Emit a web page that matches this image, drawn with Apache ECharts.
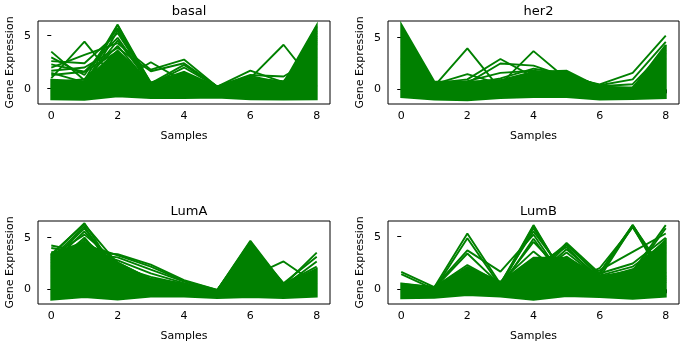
<!DOCTYPE html>
<html>
<head>
<meta charset="utf-8">
<script src="https://cdn.jsdelivr.net/npm/echarts@6/dist/echarts.min.js"></script>
<style>
html, body { margin: 0; padding: 0; background: #fff; }
#chart { width: 685px; height: 346px; }
</style>
</head>
<body>
<div id="chart"></div>
<script>
var samples = [0, 1, 2, 3, 4, 5, 6, 7, 8];
var xTicks = [0, 2, 4, 6, 8];
var yTicks = [0, 5];
var panelNames = ['basal', 'her2', 'LumA', 'LumB'];

// dense mass of overlapping profiles: lower and upper edge at each sample
var basalLow = [-1.0, -1.05, -0.72, -0.88, -0.88, -0.82, -1.0, -1.03, -1.0];
var basalHigh = [0.85, 0.7, 3.6, 0.55, 1.6, 0.2, 1.05, 0.55, 6.0];
var her2Low = [-0.75, -1.0, -1.05, -0.85, -0.75, -0.75, -1.0, -0.95, -0.85];
var her2High = [6.3, 0.75, 0.75, 0.9, 1.7, 1.8, 0.2, 0.1, 4.1];
var lumALow = [-1.0, -0.75, -1.0, -0.7, -0.7, -0.85, -0.75, -0.85, -0.7];
var lumAHigh = [3.4, 4.6, 2.6, 1.0, 0.55, -0.1, 4.2, 0.4, 2.0];
var lumBLow = [-0.85, -0.8, -0.55, -0.7, -1.0, -0.65, -0.75, -0.9, -0.7];
var lumBHigh = [0.55, 0.2, 2.1, 0.7, 3.0, 3.0, 1.2, 1.8, 4.7];

// profiles that stand out above the mass
var basalLines = [
  [3.5, 0.8, 6.05, 0.5, 1.2, 0.2, 0.6, 0.3, 5.9],
  [2.95, 1.3, 5.7, 0.6, 1.4, 0.1, 0.4, 0.2, 5.5],
  [2.6, 2.4, 5.25, 0.5, 1.0, 0.2, 0.8, 0.5, 5.0],
  [2.3, 1.6, 4.8, 0.4, 2.0, 0.2, 1.0, 0.7, 4.6],
  [1.0, 4.45, 0.6, 2.5, 0.7, 0.2, 1.7, 0.6, 4.2],
  [2.0, 3.2, 4.3, 1.8, 2.75, 0.2, 1.2, 0.5, 3.8],
  [1.7, 2.0, 3.85, 1.65, 2.4, 0.2, 1.0, 4.15, 0.2],
  [1.3, 1.6, 3.5, 0.5, 2.25, 0.2, 1.3, 1.15, 3.0],
  [0.5, 0.3, 6.0, 0.2, 0.8, 0.1, 0.5, 0.2, 5.8],
  [0.8, 0.0, 5.5, 0.3, 0.9, 0.2, 0.6, 0.3, 5.3],
  [1.5, 0.6, 4.55, 0.4, 1.1, 0.1, 0.7, 0.4, 4.8],
  [0.6, 0.9, 4.05, 0.3, 1.3, 0.2, 0.9, 0.3, 4.4]
];
var her2Lines = [
  [3.0, 0.3, 3.97, 0.0, 1.0, 1.0, 0.0, 0.0, 3.0],
  [2.0, 0.5, 1.48, 0.5, 3.7, 1.0, 0.1, 0.2, 3.5],
  [1.5, 0.6, 0.97, 2.94, 1.2, 1.5, 0.3, 0.1, 4.3],
  [1.0, 0.5, 0.6, 2.5, 2.3, 1.2, 0.48, 1.6, 5.2],
  [0.5, 0.4, 0.8, 1.6, 1.8, 1.4, 0.4, 0.97, 4.6],
  [2.5, 0.7, 0.5, 1.06, 2.0, 1.5, 0.3, 0.5, 3.8]
];
var lumALines = [
  [3.3, 6.4, 1.5, 0.5, 0.3, -0.1, 4.7, 0.5, 1.5],
  [3.0, 6.1, 1.0, 0.8, 0.4, -0.2, 4.5, 0.3, 1.8],
  [2.5, 5.6, 2.0, 0.6, 0.2, -0.1, 4.35, 0.6, 1.2],
  [4.25, 3.6, 3.4, 2.4, 0.9, -0.05, 0.5, 0.4, 3.55],
  [4.0, 3.5, 3.1, 1.9, 0.75, -0.1, 1.2, 2.7, 0.5],
  [3.6, 3.9, 2.8, 1.55, 0.6, -0.1, 2.0, 0.6, 3.15],
  [2.0, 4.8, 2.2, 1.2, 0.5, -0.1, 3.8, 0.3, 2.7],
  [3.4, 6.3, 2.5, 0.9, 0.3, -0.1, 4.6, 0.4, 1.4],
  [2.8, 5.9, 1.8, 0.7, 0.2, -0.1, 4.4, 0.2, 1.0],
  [3.2, 5.3, 2.6, 1.0, 0.5, -0.1, 4.1, 0.5, 1.9],
  [2.2, 5.0, 1.2, 0.4, 0.1, -0.1, 3.9, 0.1, 0.8],
  [3.5, 4.3, 3.3, 2.2, 0.8, -0.05, 2.5, 0.5, 2.2]
];
var lumBLines = [
  [1.65, 0.2, 5.3, 0.5, 6.1, 0.8, 1.5, 6.1, 0.8],
  [1.45, 0.0, 4.85, 0.3, 5.8, 1.0, 1.2, 1.7, 6.1],
  [0.5, 0.2, 3.7, 1.68, 5.2, 0.6, 2.0, 5.9, 1.0],
  [0.3, 0.1, 3.4, 0.4, 4.5, 1.2, 1.8, 3.55, 5.3],
  [0.4, 0.2, 2.3, 0.6, 1.2, 4.4, 1.5, 2.45, 4.9],
  [0.2, 0.1, 1.5, 0.5, 1.0, 4.2, 1.3, 2.15, 4.5],
  [0.3, 0.2, 1.2, 0.4, 1.2, 3.5, 1.0, 1.9, 3.8],
  [0.1, 0.0, 1.0, 0.3, 0.8, 2.7, 1.1, 6.05, 1.5],
  [0.2, 0.1, 0.8, 0.4, 6.0, 0.9, 1.0, 1.5, 4.0],
  [0.4, 0.2, 1.1, 0.6, 5.5, 1.3, 1.2, 1.6, 4.2],
  [0.1, 0.0, 0.9, 0.2, 4.8, 0.5, 0.9, 1.4, 3.5],
  [0.3, 0.1, 1.3, 0.7, 3.6, 1.1, 1.1, 1.7, 3.9],
  [0.2, 0.1, 0.9, 0.5, 1.8, 4.3, 1.2, 1.6, 4.1],
  [0.3, 0.2, 1.0, 0.4, 2.2, 4.0, 0.9, 1.5, 3.6],
  [0.2, 0.1, 0.8, 0.3, 1.5, 3.1, 1.0, 1.8, 4.4],
  [0.4, 0.2, 1.2, 0.6, 1.3, 1.0, 1.6, 6.1, 1.2],
  [0.3, 0.1, 0.9, 0.5, 1.1, 0.9, 1.4, 5.95, 0.6],
  [0.2, 0.1, 0.7, 0.3, 1.0, 3.8, 1.1, 1.5, 5.8]
];

var lows = [basalLow, her2Low, lumALow, lumBLow];
var highs = [basalHigh, her2High, lumAHigh, lumBHigh];
var lineSets = [basalLines, her2Lines, lumALines, lumBLines];
var yMin = [-1.44, -1.42, -1.42, -1.40];
var yMax = [6.39, 6.62, 6.62, 6.49];

var GREEN = '#008000';
var FONT = 'DejaVu Sans';
var LINE_W = 1.9;
var grids = [
  { left: 38, top: 21, width: 292, height: 83 },
  { left: 388, top: 21, width: 291, height: 83 },
  { left: 38, top: 221, width: 292, height: 83 },
  { left: 388, top: 221, width: 291, height: 83 }
];

function toPoints(vals) {
  return samples.map(function (s, i) { return [s, vals[i]]; });
}

// band between low and high edges, drawn as one polygon through the axes
function bandRenderer(low, high) {
  return function (params, api) {
    var pts = [];
    for (var i = 0; i < samples.length; i++) pts.push(api.coord([samples[i], high[i]]));
    for (var j = samples.length - 1; j >= 0; j--) pts.push(api.coord([samples[j], low[j]]));
    return {
      type: 'polygon',
      shape: { points: pts },
      style: { fill: GREEN, stroke: GREEN, lineWidth: LINE_W, lineJoin: 'miter' }
    };
  };
}

var option = {
  animation: false,
  backgroundColor: '#fff',
  title: [],
  grid: [],
  xAxis: [],
  yAxis: [],
  series: []
};

grids.forEach(function (g, k) {
  option.grid.push({
    left: g.left, top: g.top, width: g.width, height: g.height,
    show: true, borderColor: '#000', borderWidth: 1, backgroundColor: '#fff'
  });
  option.title.push({
    text: panelNames[k],
    left: g.left + g.width / 2,
    top: g.top - 21,
    textAlign: 'center',
    textStyle: { fontFamily: FONT, fontSize: 13, fontWeight: 'normal', color: '#000' }
  });
  option.xAxis.push({
    gridIndex: k, type: 'value', min: -0.4, max: 8.4,
    name: 'Samples', nameLocation: 'middle', nameGap: 27,
    nameTextStyle: { fontFamily: FONT, fontSize: 11, color: '#000' },
    axisLine: { show: false },
    splitLine: { show: false },
    axisTick: { show: true, customValues: xTicks, length: 4, lineStyle: { color: '#000' } },
    axisLabel: { customValues: xTicks, margin: 7, fontFamily: FONT, fontSize: 11, color: '#000' }
  });
  option.yAxis.push({
    gridIndex: k, type: 'value', min: yMin[k], max: yMax[k],
    name: 'Gene Expression', nameLocation: 'middle', nameGap: 22, nameRotate: 90,
    nameTextStyle: { fontFamily: FONT, fontSize: 11, color: '#000' },
    axisLine: { show: false },
    splitLine: { show: false },
    axisTick: { show: true, customValues: yTicks, length: 4, lineStyle: { color: '#000' } },
    axisLabel: { customValues: yTicks, margin: 7, fontFamily: FONT, fontSize: 11, color: '#000' }
  });

  option.series.push({
    type: 'custom', coordinateSystem: 'cartesian2d',
    xAxisIndex: k, yAxisIndex: k, silent: true,
    data: [[samples[0], lows[k][0]]],
    renderItem: bandRenderer(lows[k], highs[k])
  });
  lineSets[k].forEach(function (vals) {
    option.series.push({
      type: 'line', xAxisIndex: k, yAxisIndex: k,
      data: toPoints(vals), showSymbol: false, silent: true,
      lineStyle: { color: GREEN, width: LINE_W }
    });
  });
});

var chart = echarts.init(document.getElementById('chart'), null, { renderer: 'canvas' });
chart.setOption(option);
</script>
</body>
</html>
